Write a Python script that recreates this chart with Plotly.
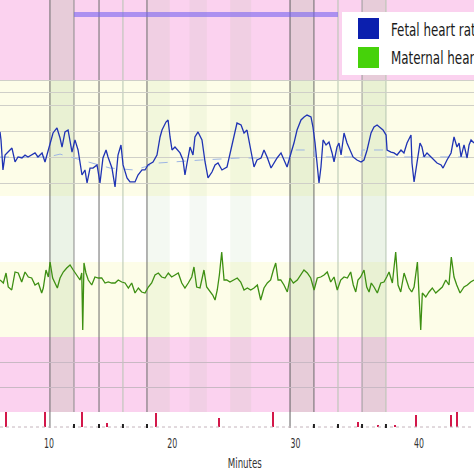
import plotly.graph_objects as go

# ---------------- data (minutes / bpm) ----------------
fhr_t = [6.03, 6.11, 6.27, 6.44, 6.68, 7.00, 7.25, 7.49, 7.81, 8.06, 8.30, 8.62, 8.87, 9.11, 9.44, 9.68, 9.92,
         10.09, 10.33, 10.65, 10.90, 11.06, 11.30, 11.55, 11.87, 12.11, 12.36, 12.68, 12.92, 13.09, 13.33, 13.57,
         13.90, 14.14, 14.38, 14.63, 14.79, 15.11, 15.36, 15.60, 15.84, 16.01, 16.33, 16.57, 16.98, 17.22, 17.55,
         17.79, 18.03, 18.44, 18.76, 19.01, 19.17, 19.49, 19.66, 19.82, 19.98, 20.22, 20.63, 20.87, 21.03, 21.20,
         21.44, 21.68, 21.84, 22.09, 22.41, 22.66, 22.90, 23.22, 23.47, 23.71, 24.03, 24.44, 24.68, 24.93, 25.25,
         25.58, 25.82, 26.06, 26.22, 26.47, 26.63, 26.87, 27.20, 27.44, 27.69, 28.01, 28.25, 28.50, 28.82, 29.06,
         29.31, 29.63, 29.87, 30.12, 30.44, 30.69, 30.93, 31.25, 31.41, 31.58, 31.74, 31.90, 32.06, 32.23, 32.47,
         32.71, 32.96, 33.12, 33.36, 33.52, 33.69, 33.93, 34.17, 34.42, 34.66, 34.98, 35.31, 35.55, 35.80, 36.12,
         36.36, 36.61, 36.85, 37.09, 37.34, 37.42, 37.74, 37.98, 38.23, 38.55, 38.79, 39.04, 39.36, 39.44, 39.61,
         39.85, 40.09, 40.25, 40.42, 40.66, 40.99, 41.23, 41.47, 41.80, 41.96, 42.28, 42.61, 42.85, 43.09, 43.26,
         43.42, 43.66, 43.91, 44.07, 44.23, 44.47]
fhr_bpm = [159.7, 153.5, 130.2, 141.8, 144.1, 147.2, 136.4, 140.3, 139.5, 141.8, 140.3, 141.8, 143.4, 140.3, 143.4, 136.4, 144.1,
           149.6, 158.9, 162.8, 155.0, 148.0, 159.7, 161.2, 144.1, 153.5, 145.7, 126.3, 130.2, 120.1, 131.7, 131.7,
           134.1, 120.1, 139.5, 145.7, 140.3, 131.7, 117.0, 141.8, 149.6, 134.1, 124.0, 120.9, 120.9, 126.3, 130.2,
           130.2, 134.1, 136.4, 141.8, 155.8, 161.2, 167.4, 169.0, 155.8, 145.7, 148.0, 143.4, 137.9, 126.3, 135.6,
           148.0, 141.8, 155.8, 159.7, 153.5, 136.4, 124.0, 128.6, 134.1, 135.6, 130.2, 132.5, 143.4, 153.5, 166.6,
           165.1, 158.9, 161.2, 153.5, 139.5, 132.5, 137.9, 139.5, 145.7, 140.3, 131.7, 135.6, 139.5, 143.4, 137.9,
           132.5, 143.4, 151.1, 161.2, 169.0, 171.3, 172.8, 171.3, 163.5, 151.1, 137.9, 120.1, 132.5, 153.5, 149.6,
           151.9, 143.4, 136.4, 148.0, 151.1, 141.8, 158.9, 151.1, 145.7, 140.3, 137.9, 136.4, 137.9, 145.7, 158.9,
           163.5, 165.1, 162.8, 161.2, 157.3, 145.7, 144.1, 143.4, 141.8, 145.7, 143.4, 151.1, 157.3, 135.6, 120.9,
           135.6, 151.1, 148.0, 140.3, 143.4, 140.3, 137.9, 135.6, 134.1, 131.7, 137.9, 143.4, 155.8, 148.0, 151.1,
           140.3, 149.6, 139.5, 149.6, 153.5, 151.1]

fhr_base_t = [6.03, 9.90, 10.9, 14.95, 16.9, 18.9, 22.3, 25.5, 29.5, 29.6, 31.5, 31.6, 35.3, 35.4, 37.3, 37.4, 44.47]
fhr_base_bpm = [140.2, 140.2, 142.5, 131.7, 130.2, 135.6, 137.9, 139.5, 139.5, 145.7, 145.7, 140.3, 140.3, 145.7, 145.7, 140.3, 140.3]

mhr_t = [6.03, 6.30, 6.52, 6.70, 6.98, 7.25, 7.51, 7.79, 8.06, 8.33, 8.60, 8.87, 9.14, 9.41, 9.54, 9.76, 9.95,
         10.09, 10.30, 10.49, 10.68, 10.90, 11.16, 11.44, 11.71, 11.97, 12.25, 12.52, 12.66, 12.74, 12.84, 13.00,
         13.19, 13.47, 13.73, 14.00, 14.28, 14.55, 14.81, 15.09, 15.36, 15.62, 15.90, 16.17, 16.44, 16.71, 16.98,
         17.25, 17.52, 17.79, 18.06, 18.33, 18.60, 18.87, 19.14, 19.41, 19.68, 19.95, 20.22, 20.49, 20.77, 21.03,
         21.30, 21.58, 21.76, 21.98, 22.25, 22.57, 22.79, 23.06, 23.28, 23.47, 23.65, 23.82, 24.01, 24.20, 24.42,
         24.68, 24.95, 25.27, 25.55, 25.82, 26.09, 26.36, 26.63, 26.90, 27.17, 27.44, 27.71, 27.98, 28.20, 28.39,
         28.58, 28.80, 29.06, 29.33, 29.55, 29.82, 30.14, 30.42, 30.68, 30.95, 31.23, 31.50, 31.76, 32.04, 32.31,
         32.57, 32.85, 33.12, 33.38, 33.66, 33.93, 34.20, 34.47, 34.68, 34.88, 35.06, 35.28, 35.55, 35.77, 35.96,
         36.14, 36.36, 36.63, 36.91, 37.17, 37.39, 37.58, 37.85, 38.12, 38.31, 38.53, 38.80, 39.01, 39.20, 39.42,
         39.61, 39.88, 40.01, 40.15, 40.28, 40.56, 40.82, 41.09, 41.37, 41.63, 41.90, 42.18, 42.44, 42.63, 42.85,
         43.07, 43.34, 43.66, 43.93, 44.20, 44.47]
mhr_bpm = [105.6, 103.2, 111.2, 100.0, 97.6, 112.0, 111.2, 104.0, 112.0, 108.0, 107.2, 101.6, 103.2, 95.2, 99.2, 113.6, 108.0,
           120.0, 107.2, 103.2, 99.2, 107.2, 112.0, 115.2, 117.6, 113.6, 109.6, 105.6, 111.2, 65.6, 119.2, 111.2,
           105.6, 101.6, 108.0, 107.2, 107.2, 103.2, 104.0, 103.2, 103.2, 105.6, 104.0, 103.2, 99.2, 103.2, 95.2,
           99.2, 96.0, 95.2, 100.0, 103.2, 109.6, 111.2, 108.0, 107.2, 111.2, 108.0, 109.6, 111.2, 103.2, 99.2,
           103.2, 108.0, 116.0, 100.0, 99.2, 113.6, 100.0, 96.0, 93.6, 89.6, 97.6, 109.6, 128.0, 105.6, 105.6,
           104.0, 105.6, 107.2, 104.0, 97.6, 99.2, 97.6, 99.2, 101.6, 89.6, 99.2, 103.2, 105.6, 113.6, 119.2,
           105.6, 105.6, 101.6, 96.0, 107.2, 103.2, 105.6, 109.6, 113.6, 111.2, 107.2, 97.6, 107.2, 108.0, 109.6,
           112.0, 104.0, 108.0, 97.6, 105.6, 108.0, 107.2, 112.0, 101.6, 96.0, 105.6, 108.0, 113.6, 100.0, 96.0,
           103.2, 100.0, 95.2, 103.2, 104.0, 108.0, 112.0, 103.2, 128.0, 101.6, 96.0, 111.2, 105.6, 99.2, 96.0,
           100.0, 120.0, 97.6, 65.6, 95.2, 92.0, 96.0, 99.2, 95.2, 97.6, 100.0, 105.6, 101.6, 124.0, 108.0,
           101.6, 95.2, 100.0, 101.6, 104.0, 105.6]

uc_t = [6.52, 9.68, 12.68, 14.71, 18.68, 23.79, 28.17, 35.06, 36.69, 38.07, 39.77, 42.61, 43.09]
uc_val = [100, 100, 100, 27, 95, 60, 100, 33, 13, 13, 80, 80, 100]

marker_min = [10.08, 12.03, 14.06, 16.0, 17.95, 29.55, 31.49, 33.44, 35.39, 37.33]
marker_shade = ["#6a6a6a", "#8a8a8a", "#6a6a6a", "#b4c4b0", "#6a6a6a", "#5e5e5e", "#6a6a6a", "#b4c4b0", "#9a9a9a", "#b4c4b0"]
marker_full = [True, False, False, False, False, True, False, False, False, False]

band_start = [10.08, 17.95, 21.4, 24.7, 29.55, 35.39]
band_end = [12.03, 19.8, 22.8, 26.4, 31.49, 37.33]
band_alpha = [0.15, 0.08, 0.07, 0.08, 0.15, 0.15]

episode = (12.03, 33.44)
x_ticks = [10, 20, 30, 40]
legend_labels = ["Fetal heart rate", "Maternal heart rate"]
legend_colors = ["#0b1fae", "#46d20a"]

# ---------------- geometry ----------------
W, H = 474, 474
PB = 45
PH = H - PB                      # plot height in px
def py(p):                       # pixel row -> paper y
    return 1 - p / PH

FHR_RANGE = [110, 262.07]
MHR_RANGE = [0, 172.8]
UC_RANGE = [-13.33, 100]
XR = [6.03, 44.47]

FONT = "DejaVu Sans Condensed, Liberation Sans Narrow, sans-serif"

fig = go.Figure()

fig.add_trace(go.Scatter(x=XR, y=[0, 0], yaxis="y3", mode="lines",
                         line=dict(color="#c4b4bc", width=1, dash="dot"), hoverinfo="skip", showlegend=False))
fig.add_trace(go.Bar(x=uc_t, y=uc_val, yaxis="y3", width=[0.12] * len(uc_t),
                     marker=dict(color="#d3174a", line=dict(width=0)), showlegend=False))
fig.add_trace(go.Scatter(x=fhr_base_t, y=fhr_base_bpm, mode="lines",
                         line=dict(color="#9db5e4", width=1, dash="dash"), showlegend=False))
fig.add_trace(go.Scatter(x=fhr_t, y=fhr_bpm, mode="lines",
                         line=dict(color="#1f33b4", width=1.3), showlegend=False))
fig.add_trace(go.Scatter(x=mhr_t, y=mhr_bpm, yaxis="y2", mode="lines",
                         line=dict(color="#3d8f12", width=1.3), showlegend=False))

shapes = []
shapes.append(dict(type="rect", xref="paper", yref="y", x0=0, x1=1, y0=200, y1=FHR_RANGE[1],
                   fillcolor="#fbd2ef", line=dict(width=0), layer="below"))
shapes.append(dict(type="rect", xref="paper", yref="y", x0=0, x1=1, y0=FHR_RANGE[0], y1=200,
                   fillcolor="#fdfde8", line=dict(width=0), layer="below"))
shapes.append(dict(type="rect", xref="paper", yref="y2", x0=0, x1=1, y0=60, y1=120,
                   fillcolor="#fdfde8", line=dict(width=0), layer="below"))
shapes.append(dict(type="rect", xref="paper", yref="y2", x0=0, x1=1, y0=0, y1=60,
                   fillcolor="#fbd2ef", line=dict(width=0), layer="below"))
for s, e, a in zip(band_start, band_end, band_alpha):
    shapes.append(dict(type="rect", xref="x", yref="paper", x0=s, x1=e, y0=py(412), y1=1,
                       fillcolor=f"rgba(120,175,95,{a})", line=dict(width=0), layer="below"))
for m, c, full in zip(marker_min, marker_shade, marker_full):
    shapes.append(dict(type="line", xref="x", yref="paper", x0=m, x1=m,
                       y0=py(428) if full else py(412), y1=1, line=dict(color=c, width=1), layer="below"))
    if not full:
        shapes.append(dict(type="line", xref="x", yref="paper", x0=m, x1=m, y0=py(428), y1=py(424),
                           line=dict(color="#222222", width=2), layer="above"))
shapes.append(dict(type="rect", xref="x", yref="paper", x0=episode[0], x1=episode[1], y0=py(17), y1=py(12),
                   fillcolor="rgba(120,100,240,0.6)", line=dict(width=0), layer="above"))
shapes.append(dict(type="rect", xref="paper", yref="paper", x0=342 / W, x1=1.02, y0=py(75), y1=py(12),
                   fillcolor="white", line=dict(width=0), layer="above"))
annotations = []
for i, (lab, col) in enumerate(zip(legend_labels, legend_colors)):
    top = 18 + 29 * i
    shapes.append(dict(type="rect", xref="paper", yref="paper", x0=358 / W, x1=379 / W,
                       y0=py(top + 21), y1=py(top), fillcolor=col, line=dict(width=0), layer="above"))
    annotations.append(dict(text=lab, xref="paper", yref="paper", x=389 / W, y=py(top + 11),
                            xanchor="left", yanchor="middle", align="left", showarrow=False,
                            font=dict(family=FONT, size=18, color="#1a1a1a")))
annotations.append(dict(text="Minutes", xref="paper", yref="paper", x=245 / W, y=py(463),
                        xanchor="center", yanchor="middle", showarrow=False,
                        font=dict(family=FONT, size=14, color="#333333")))

fig.update_layout(
    width=W, height=H,
    margin=dict(l=0, r=0, t=0, b=PB),
    paper_bgcolor="white", plot_bgcolor="rgba(0,0,0,0)",
    showlegend=False, bargap=0,
    shapes=shapes, annotations=annotations,
    xaxis=dict(range=XR, anchor="y3", tickmode="array", tickvals=x_ticks,
               showgrid=False, zeroline=False, showline=False, ticks="",
               ticklabelstandoff=4,
               tickfont=dict(family=FONT, size=14, color="#333333")),
    yaxis=dict(domain=[py(196), 1], range=FHR_RANGE, tickmode="array",
               tickvals=[120, 140, 160, 180, 190, 200], showticklabels=False,
               showgrid=True, gridcolor="#cfcfc8", gridwidth=1, zeroline=False, showline=False),
    yaxis2=dict(domain=[py(412), py(196)], range=MHR_RANGE, tickmode="array",
                tickvals=[0, 20, 40], showticklabels=False,
                showgrid=True, gridcolor="#c9b9c4", gridwidth=1, zeroline=False, showline=False),
    yaxis3=dict(domain=[0, py(412)], range=UC_RANGE, showticklabels=False,
                showgrid=False, zeroline=False, showline=False),
)

# narrow the text horizontally to mimic the condensed typeface of the original
post = """
var gd = document.getElementById('{plot_id}');
function squeeze(){
  var L = {'Fetal heart rate': 92, 'Maternal heart rate': 116, 'Minutes': 34,
           '10': 10, '20': 10, '30': 10, '40': 10};
  gd.querySelectorAll('text').forEach(function(t){
    var k = t.textContent;
    if (L.hasOwnProperty(k)) {
      t.setAttribute('textLength', L[k]);
      t.setAttribute('lengthAdjust', 'spacingAndGlyphs');
    }
  });
}
squeeze();
gd.on('plotly_afterplot', squeeze);
"""
fig.write_html("out.html", post_script=post)
